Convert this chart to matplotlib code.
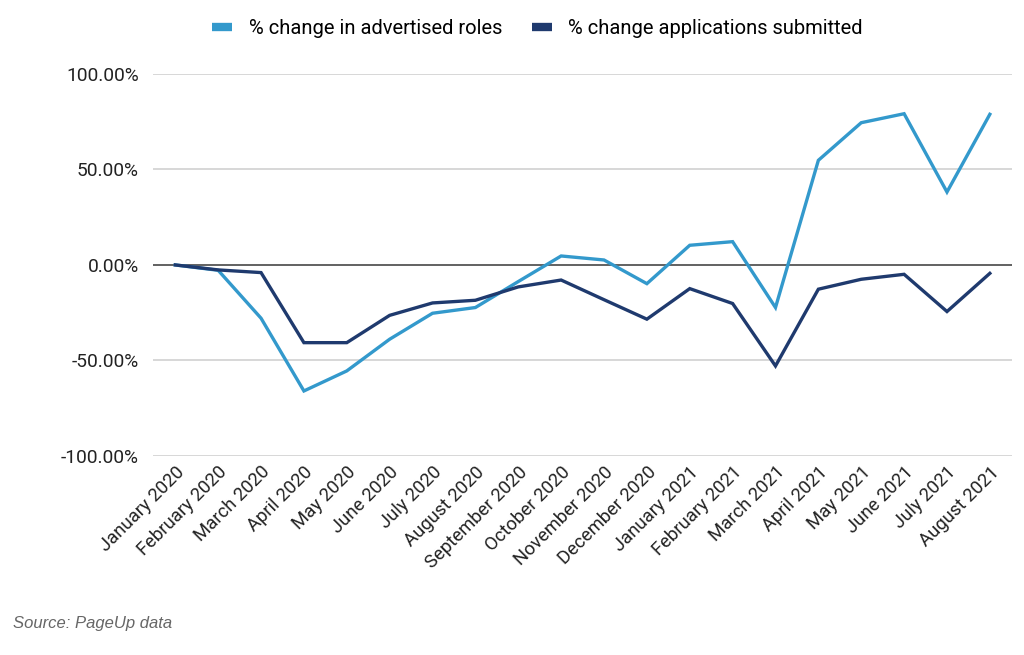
import matplotlib
matplotlib.use("Agg")
import matplotlib.pyplot as plt
from matplotlib.lines import Line2D
from matplotlib.ticker import FuncFormatter

months = ["January 2020", "February 2020", "March 2020", "April 2020", "May 2020",
          "June 2020", "July 2020", "August 2020", "September 2020", "October 2020",
          "November 2020", "December 2020", "January 2021", "February 2021",
          "March 2021", "April 2021", "May 2021", "June 2021", "July 2021", "August 2021"]
advertised = [0.0, -2.8, -27.9, -66.0, -55.5, -38.9, -25.3, -22.3, -8.7, 4.7,
              2.6, -9.8, 10.3, 12.2, -22.3, 54.8, 74.5, 79.2, 38.2, 78.9]
applications = [0.0, -2.6, -4.0, -40.7, -40.7, -26.4, -19.9, -18.5, -11.5, -7.9,
                -18.2, -28.4, -12.4, -20.2, -52.9, -12.7, -7.5, -4.9, -24.4, -4.4]
series_names = ["% change in advertised roles", "% change applications submitted"]
yticks = [-100, -50, 0, 50, 100]

c_light = "#3399cc"
c_dark = "#1f3a6e"

plt.rcParams["font.family"] = ["Roboto", "DejaVu Sans"]

fig = plt.figure(figsize=(10.24, 6.55), dpi=100)
ax = fig.add_axes([0.149, 0.304, 0.839, 0.583])

x = list(range(len(months)))
ax.plot(x, advertised, color=c_light, lw=2.4, zorder=3, solid_joinstyle="miter")
ax.plot(x, applications, color=c_dark, lw=2.4, zorder=3, solid_joinstyle="miter")

ax.set_xlim(-0.53, len(months) - 1 + 0.51)
ax.set_ylim(-100, 100)
ax.set_yticks(yticks)
ax.yaxis.set_major_formatter(FuncFormatter(lambda v, p: f"{v:.2f}%"))
for y in yticks:
    if y == 0:
        ax.axhline(y, color="#555555", lw=1.3, zorder=2)
    else:
        ax.axhline(y, color="#d4d4d4", lw=1.3, zorder=1)

ax.set_xticks(x)
ax.set_xticklabels(months, rotation=45, ha="right", rotation_mode="anchor",
                   fontsize=13.3, color="#222222")
ax.tick_params(axis="x", length=0, pad=5)
ax.tick_params(axis="y", length=0, pad=10, labelsize=13.8, labelcolor="#222222")
for s in ax.spines.values():
    s.set_visible(False)

handles = [Line2D([0], [0], color=c_light, lw=6, solid_capstyle="butt"),
           Line2D([0], [0], color=c_dark, lw=6, solid_capstyle="butt")]
fig.legend(handles, series_names, loc="center", bbox_to_anchor=(0.525, 0.957),
           ncol=2, frameon=False, fontsize=14.5, handlelength=1.0,
           handletextpad=0.8, columnspacing=1.5)

fig.text(0.013, 0.041, "Source: PageUp data", fontsize=12, color="#666666",
         style="italic", family=["Liberation Sans", "DejaVu Sans"])

fig.savefig("out.png", dpi=100, facecolor="white")
